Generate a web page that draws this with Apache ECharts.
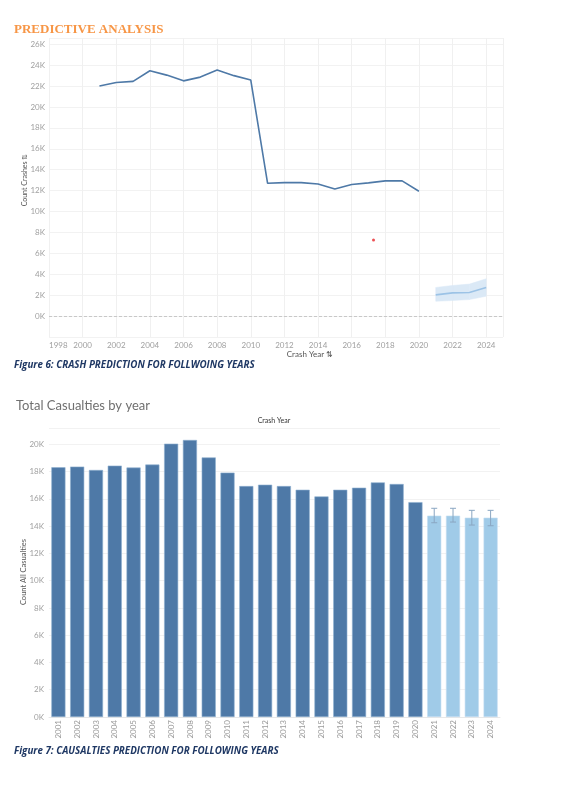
<!DOCTYPE html>
<html><head><meta charset="utf-8">
<script src="https://cdn.jsdelivr.net/npm/echarts@6/dist/echarts.min.js"></script>
<style>html,body{margin:0;padding:0;background:#fff}#c{width:571px;height:790px}</style>
</head><body><div id="c"></div>
<script>
// ---- Figure 6 data: crash counts ----
var crashYears = [2001,2002,2003,2004,2005,2006,2007,2008,2009,2010,2011,2012,2013,2014,2015,2016,2017,2018,2019,2020];
var crashCounts = [22000,22350,22450,23470,23050,22500,22860,23530,23000,22580,12700,12770,12770,12640,12160,12580,12740,12930,12930,11940];
var forecastYears = [2021,2022,2023,2024];
var forecastCrashes = [2030,2220,2260,2740];
var forecastLower = [1420,1490,1580,1900];
var forecastUpper = [2740,2930,3060,3570];
var outlierPoint = [2017.3, 7280];
var crashYTicks = [0,2000,4000,6000,8000,10000,12000,14000,16000,18000,20000,22000,24000,26000];

// ---- Figure 7 data: casualties ----
var casualtyYears = ['2001','2002','2003','2004','2005','2006','2007','2008','2009','2010','2011','2012','2013','2014','2015','2016','2017','2018','2019','2020','2021','2022','2023','2024'];
var casualtyCounts = [18320,18370,18120,18440,18300,18520,20050,20320,19040,17930,16940,17040,16940,16670,16180,16670,16820,17210,17090,15760,14770,14770,14620,14620];
var forecastCasualtyYears = ['2021','2022','2023','2024'];
var casualtyUpper = [15310,15310,15160,15160];
var casualtyLower = [14250,14300,14080,14030];

var DARK = '#4E79A7', LIGHT = '#A0CBE8';
var labelFont = 'Lato, "Open Sans", sans-serif';

var chart = echarts.init(document.getElementById('c'), null, {renderer: 'canvas'});

var lineData = crashYears.map(function(y,i){return [y, crashCounts[i]];});
var fcData = forecastYears.map(function(y,i){return [y, forecastCrashes[i]];});
// band segments: [x0, lo0, hi0, x1, lo1, hi1]
var bandSegs = [];
for (var i = 0; i < forecastYears.length - 1; i++) {
  bandSegs.push([forecastYears[i], forecastLower[i], forecastUpper[i], forecastYears[i+1], forecastLower[i+1], forecastUpper[i+1]]);
}

var barData = casualtyCounts.map(function(v,i){
  var isFc = forecastCasualtyYears.indexOf(casualtyYears[i]) >= 0;
  return {value: v, itemStyle: {color: isFc ? LIGHT : DARK, borderColor: isFc ? '#c5def1' : '#8fb0d0', borderWidth: 0.6}};
});
var errData = forecastCasualtyYears.map(function(y,i){return [y, casualtyLower[i], casualtyUpper[i]];});

var kFmt = function(v){ return crashYTicks.indexOf(v) >= 0 ? (v/1000)+'K' : ''; };

chart.setOption({
  animation: false,
  grid: [
    {left: 49, top: 38, width: 454, height: 299},
    {left: 49, top: 428, width: 451, height: 289}
  ],
  xAxis: [
    {gridIndex: 0, type: 'value', min: 1998, max: 2025, interval: 2,
     axisLine: {show: false}, axisTick: {show: false},
     splitLine: {show: true, lineStyle: {color: '#f0f0f0', width: 1}},
     axisLabel: {color: '#a0a0a0', fontSize: 8, fontFamily: labelFont, margin: 4, showMaxLabel: false, alignMinLabel: 'left',
       formatter: function(v){ return String(v); }}},
    {gridIndex: 1, type: 'category', data: casualtyYears, boundaryGap: true,
     axisLine: {show: true, lineStyle: {color: '#e8e8e8'}}, axisTick: {show: false},
     axisLabel: {color: '#9a9a9a', fontSize: 8, fontFamily: labelFont, rotate: 90, margin: 3, interval: 0}}
  ],
  yAxis: [
    {gridIndex: 0, type: 'value', min: -2000, max: 26600, interval: 2000,
     axisLine: {show: false}, axisTick: {show: false},
     splitLine: {show: true, lineStyle: {color: '#f2f2f2'}},
     axisLabel: {color: '#a0a0a0', fontSize: 8, fontFamily: labelFont, margin: 4, showMaxLabel: false, formatter: kFmt}},
    {gridIndex: 1, type: 'value', min: 0, max: 21200, interval: 2000,
     axisLine: {show: false}, axisTick: {show: false},
     splitLine: {show: true, lineStyle: {color: '#f2f2f2'}},
     axisLabel: {color: '#a0a0a0', fontSize: 8, fontFamily: labelFont, margin: 5, showMaxLabel: false,
       formatter: function(v){ return (v/1000)+'K'; }}}
  ],
  series: [
    {type: 'line', xAxisIndex: 0, yAxisIndex: 0, data: lineData, showSymbol: false, symbol: 'none',
     lineStyle: {color: DARK, width: 1.6}, itemStyle: {color: DARK},
     markLine: {silent: true, symbol: 'none', label: {show: false},
       lineStyle: {color: '#c8c8c8', type: [3,2], width: 1}, data: [{yAxis: 0}]}},
    {type: 'custom', xAxisIndex: 0, yAxisIndex: 0, data: bandSegs, z: 1,
     encode: {x: [0,3], y: [1,2,4,5]},
     renderItem: function(params, api){
       var a = api.coord([api.value(0), api.value(1)]);
       var b = api.coord([api.value(0), api.value(2)]);
       var c = api.coord([api.value(3), api.value(5)]);
       var d = api.coord([api.value(3), api.value(4)]);
       return {type: 'polygon', shape: {points: [a, b, c, d]},
         style: {fill: '#dbe9f6', stroke: '#dbe9f6', lineWidth: 0.5}};
     }},
    {type: 'line', xAxisIndex: 0, yAxisIndex: 0, data: fcData, symbol: 'none', z: 3,
     lineStyle: {color: '#9cc3e6', width: 1.6}},
    {type: 'scatter', xAxisIndex: 0, yAxisIndex: 0, data: [outlierPoint], symbolSize: 3,
     itemStyle: {color: '#e8262b'}},
    {type: 'bar', xAxisIndex: 1, yAxisIndex: 1, data: barData, barCategoryGap: '25%'},
    {type: 'custom', xAxisIndex: 1, yAxisIndex: 1, data: errData, z: 10,
     renderItem: function(params, api){
       var x = api.value(0);
       var lo = api.coord([x, api.value(1)]);
       var hi = api.coord([x, api.value(2)]);
       var hw = 3;
       var st = {stroke: '#8aa6c2', lineWidth: 1};
       return {type: 'group', children: [
         {type: 'line', shape: {x1: lo[0], y1: lo[1], x2: hi[0], y2: hi[1]}, style: st},
         {type: 'line', shape: {x1: lo[0]-hw, y1: lo[1], x2: lo[0]+hw, y2: lo[1]}, style: st},
         {type: 'line', shape: {x1: hi[0]-hw, y1: hi[1], x2: hi[0]+hw, y2: hi[1]}, style: st}
       ]};
     }}
  ],
  graphic: [
    {type: 'text', left: 14, top: 23, style: {text: 'PREDICTIVE ANALYSIS', fill: '#F79646',
      font: 'bold 13px "Liberation Serif", "DejaVu Serif", serif'}},
    {type: 'text', x: 25, y: 180, rotation: Math.PI/2, style: {text: 'Count Crashes ⇅', fill: '#555',
      font: '7px ' + labelFont, align: 'center', verticalAlign: 'middle'}},
    {type: 'text', x: 310, y: 354, style: {text: 'Crash Year ⇅', fill: '#555',
      font: '8px ' + labelFont, align: 'center', verticalAlign: 'middle'}},
    {type: 'text', left: 14, top: 360, style: {text: 'Figure 6: CRASH PREDICTION FOR FOLLWOING YEARS', fill: '#1F3864',
      font: 'italic bold 9.8px "Open Sans", "Noto Sans", sans-serif'}},
    {type: 'text', left: 16, top: 399, style: {text: 'Total Casualties by year', fill: '#707070',
      font: '13px ' + labelFont}},
    {type: 'text', x: 274, y: 421, style: {text: 'Crash Year', fill: '#333',
      font: '7px ' + labelFont, align: 'center', verticalAlign: 'middle'}},
    {type: 'text', x: 24, y: 572, rotation: Math.PI/2, style: {text: 'Count All Casualties', fill: '#555',
      font: '7.5px ' + labelFont, align: 'center', verticalAlign: 'middle'}},
    {type: 'text', left: 14, top: 746, style: {text: 'Figure 7: CAUSALTIES PREDICTION FOR FOLLOWING YEARS', fill: '#1F3864',
      font: 'italic bold 9.8px "Open Sans", "Noto Sans", sans-serif'}}
  ]
});
</script>
</body></html>
